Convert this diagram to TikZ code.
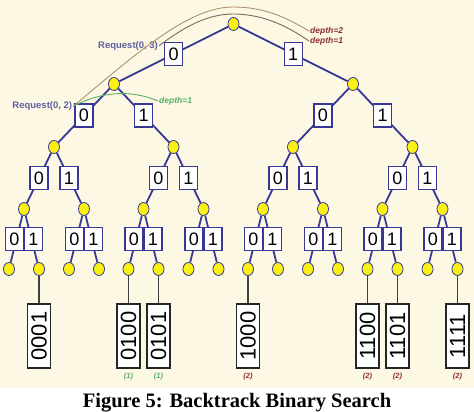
\documentclass[tikz,border=0pt]{standalone}
\usepackage{fontspec}
\setmainfont{Liberation Serif}
\setsansfont{Liberation Sans}
\usetikzlibrary{positioning, shapes.geometric}
\definecolor{navy}{RGB}{55,55,150}
\definecolor{cream}{RGB}{252,248,228}
\definecolor{bulb}{RGB}{250,240,20}
\definecolor{reqblue}{RGB}{95,95,160}
\definecolor{deepred}{RGB}{140,45,45}
\definecolor{leafgreen}{RGB}{90,175,100}
\definecolor{tanline}{RGB}{175,145,110}
\definecolor{taupe}{RGB}{125,105,95}
\tikzset{
  vertex/.style={ellipse, draw=navy, line width=0.8pt, fill=bulb,
    minimum width=11pt, minimum height=13pt, inner sep=0pt},
  branch/.style={draw=navy, line width=1.8pt},
  bit/.style={rectangle, draw=navy, line width=1.4pt, fill=white,
    minimum width=18pt, minimum height=23pt, inner sep=0pt,
    font=\sffamily\fontsize{18}{18}\selectfont},
  codebox/.style={rectangle, draw=black!85, line width=1.2pt, fill=white,
    minimum width=23pt, minimum height=64pt, inner sep=0pt,
    font=\sffamily\fontsize{22}{22}\selectfont},
  wire/.style={draw=black!75, line width=1.4pt},
  reqtag/.style={text=reqblue, inner sep=1pt,
    font=\sffamily\bfseries\fontsize{9.5}{10}\selectfont},
  depthtag/.style={inner sep=1pt, anchor=west,
    font=\sffamily\bfseries\itshape\fontsize{8.5}{9}\selectfont},
  hits/.style={inner sep=1pt,
    font=\sffamily\bfseries\itshape\fontsize{7.5}{8}\selectfont},
}

\begin{document}
\begin{tikzpicture}[x=1pt, y=-1pt]
  \useasboundingbox (0,0) rectangle (474,412);
  \fill[cream] (0,0) rectangle (474,388);

  % tree vertices
  \node[vertex] (r) at (233.5,24) {};
  \node[vertex] (n0) at (114,84) {};
  \node[vertex] (n1) at (353,84) {};
  \node[vertex] (n00) at (54,147) {};
  \node[vertex] (n01) at (173.5,147) {};
  \node[vertex] (n10) at (293,147) {};
  \node[vertex] (n11) at (412.5,147) {};
  \node[vertex] (n000) at (24,209) {};
  \node[vertex] (n001) at (84,209) {};
  \node[vertex] (n010) at (143.5,209) {};
  \node[vertex] (n011) at (203.5,209) {};
  \node[vertex] (n100) at (263,209) {};
  \node[vertex] (n101) at (323,209) {};
  \node[vertex] (n110) at (382.5,209) {};
  \node[vertex] (n111) at (442.5,209) {};
  \node[vertex] (n0000) at (9,269) {};
  \node[vertex] (n0001) at (39,269) {};
  \node[vertex] (n0010) at (69,269) {};
  \node[vertex] (n0011) at (99,269) {};
  \node[vertex] (n0100) at (128.5,269) {};
  \node[vertex] (n0101) at (158.5,269) {};
  \node[vertex] (n0110) at (188.5,269) {};
  \node[vertex] (n0111) at (218.5,269) {};
  \node[vertex] (n1000) at (248,269) {};
  \node[vertex] (n1001) at (278,269) {};
  \node[vertex] (n1010) at (308,269) {};
  \node[vertex] (n1011) at (338,269) {};
  \node[vertex] (n1100) at (367.5,269) {};
  \node[vertex] (n1101) at (397.5,269) {};
  \node[vertex] (n1110) at (427.5,269) {};
  \node[vertex] (n1111) at (457.5,269) {};

  % branches with their bits
  \draw[branch] (r) -- node[bit] (b0) {0} (n0);
  \draw[branch] (r) -- node[bit] (b1) {1} (n1);
  \draw[branch] (n0) -- node[bit] (b00) {0} (n00);
  \draw[branch] (n0) -- node[bit] (b01) {1} (n01);
  \draw[branch] (n1) -- node[bit] (b10) {0} (n10);
  \draw[branch] (n1) -- node[bit] (b11) {1} (n11);
  \draw[branch] (n00) -- node[bit] (b000) {0} (n000);
  \draw[branch] (n00) -- node[bit] (b001) {1} (n001);
  \draw[branch] (n01) -- node[bit] (b010) {0} (n010);
  \draw[branch] (n01) -- node[bit] (b011) {1} (n011);
  \draw[branch] (n10) -- node[bit] (b100) {0} (n100);
  \draw[branch] (n10) -- node[bit] (b101) {1} (n101);
  \draw[branch] (n11) -- node[bit] (b110) {0} (n110);
  \draw[branch] (n11) -- node[bit] (b111) {1} (n111);
  \draw[branch] (n000) -- node[bit, xshift=-2pt] (b0000) {0} (n0000);
  \draw[branch] (n000) -- node[bit, xshift=2pt] (b0001) {1} (n0001);
  \draw[branch] (n001) -- node[bit, xshift=-2pt] (b0010) {0} (n0010);
  \draw[branch] (n001) -- node[bit, xshift=2pt] (b0011) {1} (n0011);
  \draw[branch] (n010) -- node[bit, xshift=-2pt] (b0100) {0} (n0100);
  \draw[branch] (n010) -- node[bit, xshift=2pt] (b0101) {1} (n0101);
  \draw[branch] (n011) -- node[bit, xshift=-2pt] (b0110) {0} (n0110);
  \draw[branch] (n011) -- node[bit, xshift=2pt] (b0111) {1} (n0111);
  \draw[branch] (n100) -- node[bit, xshift=-2pt] (b1000) {0} (n1000);
  \draw[branch] (n100) -- node[bit, xshift=2pt] (b1001) {1} (n1001);
  \draw[branch] (n101) -- node[bit, xshift=-2pt] (b1010) {0} (n1010);
  \draw[branch] (n101) -- node[bit, xshift=2pt] (b1011) {1} (n1011);
  \draw[branch] (n110) -- node[bit, xshift=-2pt] (b1100) {0} (n1100);
  \draw[branch] (n110) -- node[bit, xshift=2pt] (b1101) {1} (n1101);
  \draw[branch] (n111) -- node[bit, xshift=-2pt] (b1110) {0} (n1110);
  \draw[branch] (n111) -- node[bit, xshift=2pt] (b1111) {1} (n1111);

  % found keys
  \node[codebox, below=27.5pt of n0001] (c0001) {\rotatebox{90}{0001}};
  \node[codebox, below=27.5pt of n0100] (c0100) {\rotatebox{90}{0100}};
  \node[codebox, below=27.5pt of n0101] (c0101) {\rotatebox{90}{0101}};
  \node[codebox, below=27.5pt of n1000] (c1000) {\rotatebox{90}{1000}};
  \node[codebox, below=27.5pt of n1100] (c1100) {\rotatebox{90}{1100}};
  \node[codebox, below=27.5pt of n1101] (c1101) {\rotatebox{90}{1101}};
  \node[codebox, below=27.5pt of n1111] (c1111) {\rotatebox{90}{1111}};
  \draw[wire] (n0001) -- (c0001);
  \draw[wire] (n0100) -- (c0100);
  \draw[wire] (n0101) -- (c0101);
  \draw[wire] (n1000) -- (c1000);
  \draw[wire] (n1100) -- (c1100);
  \draw[wire] (n1101) -- (c1101);
  \draw[wire] (n1111) -- (c1111);

  \node[hits, text=leafgreen, below=3pt of c0100] (h0100) {(1)};
  \node[hits, text=leafgreen, below=3pt of c0101] (h0101) {(1)};
  \node[hits, text=deepred, below=3pt of c1000] (h1000) {(2)};
  \node[hits, text=deepred, below=3pt of c1100] (h1100) {(2)};
  \node[hits, text=deepred, below=3pt of c1101] (h1101) {(2)};
  \node[hits, text=deepred, below=3pt of c1111] (h1111) {(2)};

  % requests and depths
  \node[reqtag, left=5pt of b0.north west, yshift=-4pt] (req03) {Request(0, 3)};
  \node[reqtag, left=1pt of b00.north west, yshift=-3pt] (req02) {Request(0, 2)};
  \node[depthtag, text=deepred] (d2) at (309,31) {depth=2};
  \node[depthtag, text=deepred] (d1) at (309,41) {depth=1};
  \node[depthtag, text=leafgreen] (d1g) at (158,101) {depth=1};
  \coordinate (peak2) at (233,7);
  \coordinate (peak1) at (233,14);
  \draw[tanline, line width=0.9pt] (req02.east) .. controls (140,50) and (190,7) .. (peak2)
    .. controls (268,7) and (290,20) .. (d2.west);
  \draw[taupe, line width=0.9pt] (req03.east) .. controls (180,30) and (205,14) .. (peak1)
    .. controls (265,14) and (290,28) .. (d1.west);
  \draw[leafgreen, line width=0.9pt] (req02.east) .. controls (100,92) and (130,89) .. (d1g.west);

  \node[anchor=base, font=\bfseries\fontsize{20.5}{24}\selectfont] (cap) at (237,407)
    {Figure 5: Backtrack Binary Search};
\end{tikzpicture}
\end{document}
